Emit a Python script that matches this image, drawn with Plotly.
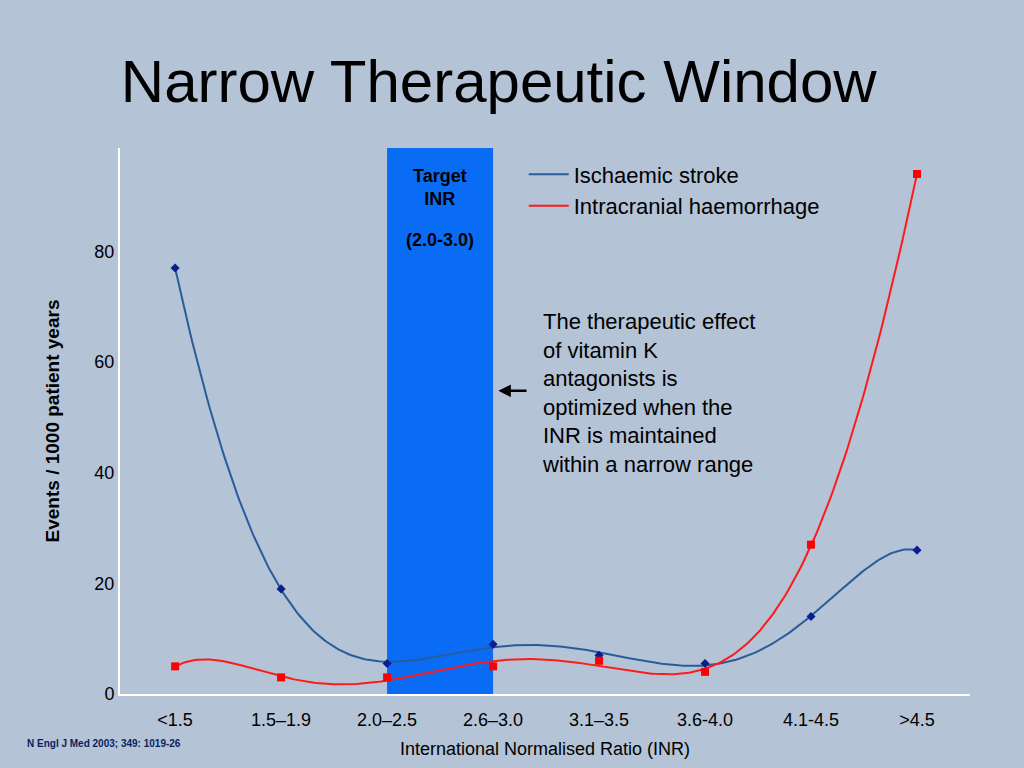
import numpy as np
import plotly.graph_objects as go

categories = ["<1.5", "1.5–1.9", "2.0–2.5", "2.6–3.0", "3.1–3.5", "3.6-4.0", "4.1-4.5", ">4.5"]
stroke = [77, 19, 5.5, 9, 7, 5.5, 14, 26]
haem = [5, 3, 3, 5, 6, 4, 27, 94]
yticks = [0, 20, 40, 60, 80]

x = np.arange(len(categories))
xs = np.linspace(0, 7, 300)
fs = np.polyval(np.polyfit(x, stroke, 6), xs)
fh = np.polyval(np.polyfit(x, haem, 6), xs)

fig = go.Figure()
fig.add_shape(type="rect", x0=2, x1=3, y0=0, y1=98.7, fillcolor="#0a6cf5", line_width=0, layer="below")
fig.add_trace(go.Scatter(x=xs, y=fs, mode="lines", line=dict(color="#2a5c9a", width=2), name="Ischaemic stroke"))
fig.add_trace(go.Scatter(x=xs, y=fh, mode="lines", line=dict(color="#ff1a1a", width=2), name="Intracranial haemorrhage"))
fig.add_trace(go.Scatter(x=x, y=stroke, mode="markers", marker=dict(symbol="diamond", color="#0a1f8f", size=7), showlegend=False))
fig.add_trace(go.Scatter(x=x, y=haem, mode="markers", marker=dict(symbol="square", color="#ff0000", size=8), showlegend=False))

fig.update_layout(
    width=1024, height=768, margin=dict(l=120, r=54, t=148, b=71),
    paper_bgcolor="#b4c3d6", plot_bgcolor="rgba(0,0,0,0)",
    font=dict(family="Liberation Sans, Arial", color="black"),
    title=dict(text="Narrow Therapeutic Window", x=0.118, xanchor="left", y=0.895, yanchor="middle",
               font=dict(size=60, color="black")),
    legend=dict(x=0.475, y=0.99, xanchor="left", yanchor="top", bgcolor="rgba(0,0,0,0)", font=dict(size=22),
                itemwidth=40),
    xaxis=dict(range=[-0.52, 7.5], tickvals=list(x), ticktext=categories, showgrid=False, zeroline=False,
               showline=True, linecolor="white", linewidth=2, tickfont=dict(size=18), ticks="",
               ticklabelstandoff=8,
               title=dict(text="International Normalised Ratio (INR)", font=dict(size=18), standoff=14)),
    yaxis=dict(range=[0, 98.7], tickvals=yticks, showgrid=False, zeroline=False, showline=True,
               linecolor="white", linewidth=2, tickfont=dict(size=18), ticks="",
               title=dict(text="<b>Events / 1000 patient years</b>", font=dict(size=19), standoff=30)),
)
fig.add_annotation(x=2.5, y=91.5, text="<b>Target<br>INR</b>", showarrow=False, font=dict(size=18), yanchor="middle")
fig.add_annotation(x=2.5, y=82, text="<b>(2.0-3.0)</b>", showarrow=False, font=dict(size=18))
fig.add_annotation(x=3.44, y=54.5, text="The therapeutic effect<br>of vitamin K<br>antagonists is<br>optimized when the<br>INR is maintained<br>within a narrow range",
                   showarrow=False, xanchor="left", align="left", font=dict(size=22), yanchor="middle")
fig.add_annotation(x=3.05, y=54.8, ax=3.33, ay=54.8, xref="x", yref="y", axref="x", ayref="y", text="",
                   showarrow=True, arrowhead=2, arrowwidth=2.5, arrowcolor="black")
fig.add_annotation(xref="paper", yref="paper", x=-0.112, y=-0.105, text="<b>N Engl J Med 2003; 349: 1019-26</b>",
                   showarrow=False, xanchor="left", font=dict(size=10, color="#0a1f5f"))
fig.write_html("out.html", post_script="document.body.style.margin='0';", config={"displayModeBar": False})
